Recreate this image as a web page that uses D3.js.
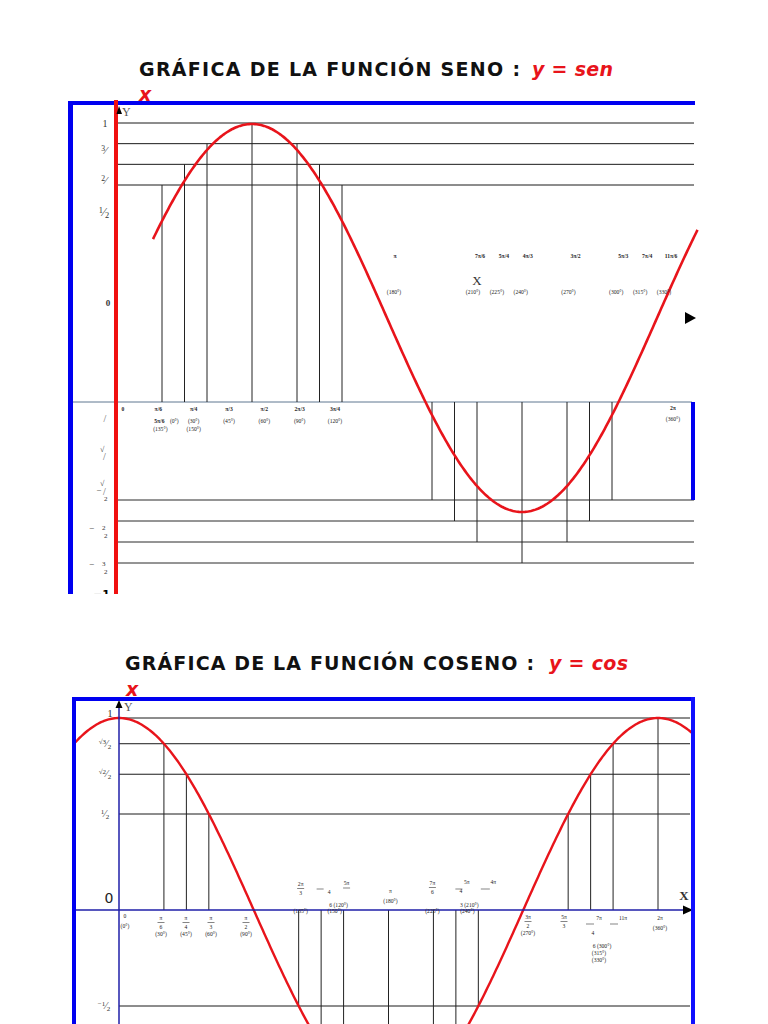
<!DOCTYPE html>
<html lang="es">
<head>
<meta charset="UTF-8">
<title>Gráfica de la función seno y coseno</title>
<script src="https://cdnjs.cloudflare.com/ajax/libs/d3/7.8.5/d3.min.js"></script>
<style>
html, body { margin: 0; padding: 0; background: white; }
.title { font-family: 'DejaVu Sans', Verdana, sans-serif; font-weight: bold; font-size: 19px; fill: #111; }
.fn { fill: #e8141b; font-style: italic; }
.tiny { font-family: 'Liberation Serif', serif; font-size: 5.6px; fill: #222; }
.rad { font-weight: bold; }
.ylab { font-family: 'Liberation Serif', serif; font-size: 10px; fill: #333; }
</style>
</head>
<body>
<div id="chart"></div>
<script>

// --------------------------------------
// Data
// --------------------------------------
const angles = [0, 30, 45, 60, 90, 120, 135, 150, 180, 210, 225, 240, 270, 300, 315, 330, 360];
const radLabels = ["0", "π/6", "π/4", "π/3", "π/2", "2π/3", "3π/4", "5π/6", "π",
                   "7π/6", "5π/4", "4π/3", "3π/2", "5π/3", "7π/4", "11π/6", "2π"];
const degLabels = ["(0°)", "(30°)", "(45°)", "(60°)", "(90°)", "(120°)", "(135°)", "(150°)", "(180°)",
                   "(210°)", "(225°)", "(240°)", "(270°)", "(300°)", "(315°)", "(330°)", "(360°)"];
const levelValues = [1, Math.sqrt(3) / 2, Math.SQRT1_2, 1 / 2];
const levelLabels = ["1", "√3/2", "√2/2", "1/2"];
const sineSpan = [24, 387];   // grados dibujados
const cosSpan = [-29, 383];

const rad = d => d * Math.PI / 180;
const lab = d => radLabels[angles.indexOf(d)];
const deg = d => degLabels[angles.indexOf(d)];
const levelOf = v => levelLabels[levelValues.findIndex(l => Math.abs(l - Math.abs(v)) < 1e-6)];

const svg = d3.select("#chart").append("svg")
  .attr("width", 768).attr("height", 1024)
  .style("display", "block");

svg.append("defs").append("clipPath").attr("id", "clipSen")
  .append("rect").attr("x", 0).attr("y", 0).attr("width", 768).attr("height", 594);

function tiny(g, x, y, s, cls) {
  return g.append("text").attr("class", "tiny" + (cls ? " " + cls : ""))
    .attr("x", x).attr("y", y).attr("text-anchor", "middle").text(s);
}
function bar(g, x, y, w) {
  g.append("line").attr("x1", x - w / 2).attr("x2", x + w / 2).attr("y1", y).attr("y2", y)
    .attr("stroke", "#333").attr("stroke-width", 0.6);
}
function stack(g, x, y, s) {
  const [n, d] = s.split("/");
  tiny(g, x, y, n);
  bar(g, x, y + 2.5, 7);
  tiny(g, x, y + 8.5, d);
}
function frac(g, x, y, s, size) {
  const [n, d] = s.split("/");
  const t = g.append("text").attr("class", "ylab").attr("x", x).attr("y", y)
    .attr("text-anchor", "middle").style("font-size", size + "px");
  t.append("tspan").text(n).style("font-size", (size * 0.7) + "px").attr("dy", -3);
  t.append("tspan").text("⁄").attr("dy", 3);
  t.append("tspan").text(d).style("font-size", (size * 0.7) + "px").attr("dy", 2);
}
function tri(g, pts) {
  g.append("path").attr("d", "M" + pts.map(p => p.join(",")).join("L") + "Z").attr("fill", "#000");
}

// --------------------------------------
// Títulos
// --------------------------------------
function title(y, x0, len0, txt, x1, len1, fn, xx, yx) {
  svg.append("text").attr("class", "title").attr("x", x0).attr("y", y)
    .attr("textLength", len0).attr("lengthAdjust", "spacing").text(txt);
  svg.append("text").attr("class", "title fn").attr("x", x1).attr("y", y)
    .attr("textLength", len1).attr("lengthAdjust", "spacing").text(fn);
  svg.append("text").attr("class", "title fn").attr("x", xx).attr("y", yx).text("x");
}
title(76, 139, 381, "GRÁFICA DE LA FUNCIÓN SENO :", 532, 81, "y = sen", 139, 101);
title(670, 125, 409, "GRÁFICA DE LA FUNCIÓN COSENO :", 549, 79, "y = cos", 126, 696);

// --------------------------------------
// Seno
// --------------------------------------
const sen = svg.append("g").attr("clip-path", "url(#clipSen)");

const xS = d3.scaleLinear().domain([0, 360]).range([117, 657]);
const yS = d3.scaleLinear().domain([-1, 1]).range([512, 124]);
const gridTop = d3.scalePoint().domain(levelLabels).range([123, 185]);
const gridBot = d3.scalePoint().domain(levelLabels).range([563, 500]);
const gridBase = 402;

sen.selectAll(".hTop").data(levelLabels).join("line")
  .attr("x1", 117).attr("x2", 694)
  .attr("y1", d => gridTop(d)).attr("y2", d => gridTop(d))
  .attr("stroke", "#1a1a1a").attr("stroke-width", 1);
sen.selectAll(".hBot").data(levelLabels).join("line")
  .attr("x1", 117).attr("x2", 694)
  .attr("y1", d => gridBot(d)).attr("y2", d => gridBot(d))
  .attr("stroke", "#2a2a2a").attr("stroke-width", 1);

sen.append("line").attr("x1", 73).attr("x2", 692).attr("y1", gridBase).attr("y2", gridBase)
  .attr("stroke", "#5f7690").attr("stroke-width", 1);

const vS = angles.filter(a => a > 0 && a < 360 && a !== 180);
sen.selectAll(".vS").data(vS).join("line")
  .attr("x1", d => xS(d)).attr("x2", d => xS(d))
  .attr("y1", gridBase)
  .attr("y2", d => Math.sin(rad(d)) > 0 ? gridTop(levelOf(Math.sin(rad(d)))) : gridBot(levelOf(Math.sin(rad(d)))))
  .attr("stroke", "#222").attr("stroke-width", 1);

// marco
sen.append("rect").attr("x", 68).attr("y", 101).attr("width", 627).attr("height", 4).attr("fill", "#0000f0");
sen.append("rect").attr("x", 68).attr("y", 101).attr("width", 5).attr("height", 500).attr("fill", "#0000f0");
sen.append("rect").attr("x", 691).attr("y", gridBase).attr("width", 4).attr("height", gridBot("1/2") - gridBase).attr("fill", "#0000f0");

// curva seno
const sinPts = d3.range(sineSpan[0], sineSpan[1] + 0.5, 1);
sen.append("path").datum(sinPts)
  .attr("d", d3.line().x(d => xS(d)).y(d => yS(Math.sin(rad(d)))))
  .attr("fill", "none").attr("stroke", "#e8141b").attr("stroke-width", 2.6);

// eje Y rojo
sen.append("line").attr("x1", 116).attr("x2", 116).attr("y1", 100).attr("y2", 600)
  .attr("stroke", "#f01010").attr("stroke-width", 4);
tri(sen, [[119, 106], [116.5, 114], [122, 114]]);
sen.append("text").attr("x", 122).attr("y", 116).attr("class", "ylab").style("font-size", "12px").style("fill", "#555").text("Y");
tri(sen, [[685, 312], [685, 324], [696, 318]]);
sen.append("text").attr("x", 477).attr("y", 285).attr("class", "ylab").attr("text-anchor", "middle")
  .style("font-size", "13px").text("X");

// etiquetas eje Y seno
sen.append("text").attr("class", "ylab").attr("x", 105).attr("y", 127).attr("text-anchor", "middle").text("1");
frac(sen, 104, 154, "3/", 11);
frac(sen, 104, 184, "2/", 11);
frac(sen, 104, 216, "1/2", 12);
sen.append("text").attr("class", "ylab").attr("x", 108).attr("y", 306).attr("text-anchor", "middle")
  .style("font-size", "9px").style("font-weight", "bold").text("0");
sen.append("text").attr("class", "ylab").attr("x", 105).attr("y", 422).attr("text-anchor", "middle").style("fill", "#666").text("/");
sen.append("text").attr("class", "ylab").attr("x", 100).attr("y", 452).style("font-size", "8px").text("√");
sen.append("text").attr("class", "ylab").attr("x", 103).attr("y", 460).style("fill", "#666").text("/");
sen.append("text").attr("class", "ylab").attr("x", 100).attr("y", 486).style("font-size", "8px").text("√");
sen.append("text").attr("class", "ylab").attr("x", 97).attr("y", 492).style("font-size", "8px").text("–");
sen.append("text").attr("class", "ylab").attr("x", 103).attr("y", 495).style("fill", "#666").text("/");
sen.append("text").attr("class", "ylab").attr("x", 104).attr("y", 501).style("font-size", "7px").text("2");
[["2", 528], ["3", 564]].forEach(([n, y]) => {
  sen.append("text").attr("class", "ylab").attr("x", 89).attr("y", y + 3).style("font-size", "9px").text("−");
  sen.append("text").attr("class", "ylab").attr("x", 102).attr("y", y + 2).style("font-size", "7px").text(n);
  sen.append("text").attr("class", "ylab").attr("x", 104).attr("y", y + 10).style("font-size", "7px").text("2");
});
sen.append("text").attr("x", 93).attr("y", 598).style("font-family", "DejaVu Sans").style("font-size", "11px")
  .style("font-weight", "bold").text("−1");

// etiquetas de ángulos (seno)
const labIdx = d3.scaleLinear().domain([0, 6]).range([123, 335]);
angles.slice(0, 7).forEach((a, i) => tiny(sen, labIdx(i), 411, lab(a), "rad"));
tiny(sen, labIdx(1) + 1, 423, lab(150), "rad");
tiny(sen, labIdx(1) + 16, 423, deg(0));
angles.slice(1, 6).forEach((a, i) => tiny(sen, labIdx(i + 2), 423, deg(a)));
tiny(sen, labIdx(1) + 2, 431, deg(135));
tiny(sen, labIdx(2), 431, deg(150));
tiny(sen, 673, 410, lab(360), "rad");
tiny(sen, 673, 421, deg(360));

const labB = d3.scaleLinear().domain([180, 210, 330]).range([395, 480, 671]);
angles.filter(a => a >= 180 && a < 360).forEach(a => {
  tiny(sen, labB(a), 258, lab(a), "rad");
  tiny(sen, a === 180 ? labB(a) - 1 : labB(a) - 7, 294, deg(a));
});

// --------------------------------------
// Coseno
// --------------------------------------
const cos = svg.append("g");
const xC = d3.scaleLinear().domain([0, 360]).range([119, 658]);
const yC = d3.scaleLinear().domain([-1, 1]).range([1102, 718]);
const levelsC = levelValues.concat(levelValues.map(v => -v));

cos.selectAll(".hC").data(levelsC).join("line")
  .attr("x1", 119).attr("x2", 690)
  .attr("y1", d => yC(d)).attr("y2", d => yC(d))
  .attr("stroke", "#1a1a1a").attr("stroke-width", 1);

const vC = angles.filter(a => a > 0 && a !== 90 && a !== 270);
cos.selectAll(".vC").data(vC).join("line")
  .attr("x1", d => xC(d)).attr("x2", d => xC(d))
  .attr("y1", yC(0)).attr("y2", d => yC(Math.cos(rad(d))))
  .attr("stroke", "#222").attr("stroke-width", 1);

// curva coseno
const cosPts = d3.range(cosSpan[0], cosSpan[1] + 0.5, 1);
cos.append("path").datum(cosPts)
  .attr("d", d3.line().x(d => xC(d)).y(d => yC(Math.cos(rad(d)))))
  .attr("fill", "none").attr("stroke", "#e8141b").attr("stroke-width", 2.4);

// ejes
cos.append("line").attr("x1", 76).attr("x2", 686).attr("y1", yC(0)).attr("y2", yC(0))
  .attr("stroke", "#1f1fa8").attr("stroke-width", 1.5);
cos.append("line").attr("x1", 119).attr("x2", 119).attr("y1", 706).attr("y2", 1024)
  .attr("stroke", "#1f1fa8").attr("stroke-width", 1.5);
tri(cos, [[683, 905.5], [683, 914.5], [693, 910]]);
tri(cos, [[119, 700], [115.5, 708], [122.5, 708]]);

// marco
cos.append("rect").attr("x", 72).attr("y", 697).attr("width", 623).attr("height", 4).attr("fill", "#0000f0");
cos.append("rect").attr("x", 72).attr("y", 697).attr("width", 4).attr("height", 327).attr("fill", "#0000f0");
cos.append("rect").attr("x", 691).attr("y", 697).attr("width", 4).attr("height", 327).attr("fill", "#1010ff");

cos.append("text").attr("class", "ylab").attr("x", 124).attr("y", 711).style("font-size", "12px").style("fill", "#555").text("Y");
cos.append("text").attr("class", "ylab").attr("x", 684).attr("y", 900).attr("text-anchor", "middle")
  .style("font-size", "13px").style("font-weight", "bold").text("X");

// etiquetas eje Y coseno
cos.append("text").attr("class", "ylab").attr("x", 110).attr("y", 717).attr("text-anchor", "middle").style("font-size", "11px").text("1");
frac(cos, 105, yC(levelValues[1]) + 3, "√3/2", 10);
frac(cos, 105, yC(levelValues[2]) + 3, "√2/2", 10);
frac(cos, 105, yC(levelValues[3]) + 3, "1/2", 10);
frac(cos, 104, yC(-levelValues[3]) + 3, "−1/2", 10);
cos.append("text").attr("x", 109).attr("y", 903).attr("text-anchor", "middle")
  .style("font-family", "DejaVu Sans").style("font-size", "14px").style("fill", "#222").text("0");

// etiquetas de ángulos (coseno), debajo del eje: 0..90
const labC = d3.scaleLinear().domain([0, 30, 60, 90]).range([125, 161, 211, 246]);
tiny(cos, labC(0), 918, lab(0));
tiny(cos, labC(0), 928, deg(0));
[30, 45, 60, 90].forEach(a => {
  stack(cos, labC(a), 920, lab(a));
  tiny(cos, labC(a), 936, deg(a));
});

// encima del eje: 120..240
const mid = a => xC(a) + 2;
stack(cos, mid(120), 886, "2π/3");
bar(cos, mid(135) - 3, 889, 7);
tiny(cos, mid(135) + 6, 894, "4");
tiny(cos, mid(150) + 1, 885, "5π");
bar(cos, mid(150) + 1, 888, 7);
tiny(cos, mid(180), 893, lab(180));
tiny(cos, mid(180), 903, deg(180));
stack(cos, mid(210) - 3, 885, lab(210));
bar(cos, mid(225) + 1, 889, 7);
tiny(cos, mid(225) + 9, 884, "5π");
tiny(cos, mid(225) + 3, 893, "4");
bar(cos, mid(240) + 5, 889, 9);
tiny(cos, mid(240) + 13, 884, "4π");
tiny(cos, xC(150) - 5, 907, "6 " + deg(120));
tiny(cos, mid(120), 913, deg(135));
tiny(cos, xC(150) - 9, 913, deg(150));
tiny(cos, mid(210) - 3, 913, deg(225));
tiny(cos, xC(240) - 9, 907, "3 " + deg(210));
tiny(cos, xC(240) - 11, 913, deg(240));

// debajo del eje: 270..360
const labR = d3.scaleLinear().domain([270, 300, 360]).range([528, 564, 660]);
stack(cos, labR(270), 919, lab(270));
tiny(cos, labR(270), 935, deg(270));
stack(cos, labR(300), 919, lab(300));
[315, 330].forEach(a => {
  bar(cos, labR(a) + 2, 924, 8);
  tiny(cos, labR(a) + 11, 920, lab(a).split("/")[0]);
});
tiny(cos, labR(315) + 5, 935, "4");
tiny(cos, labR(360), 920, lab(360));
tiny(cos, labR(360), 930, deg(360));
tiny(cos, labR(315) + 14, 948, "6  " + deg(300));
tiny(cos, labR(315) + 11, 955, deg(315));
tiny(cos, labR(315) + 11, 962, deg(330));

</script>
</body>
</html>
